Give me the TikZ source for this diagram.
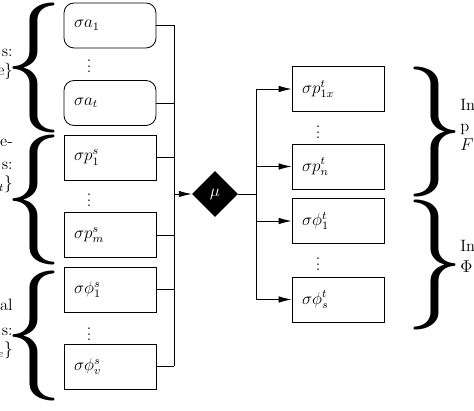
\documentclass[tikz,border=0pt]{standalone}
\usepackage{graphicx}
\usetikzlibrary{shapes.geometric,arrows.meta}
\newcommand{\lbr}{\resizebox*{41.3pt}{91pt}{$\{$}}
\newcommand{\rbr}{\resizebox*{41.3pt}{91pt}{$\}$}}
\begin{document}
\begin{tikzpicture}[x=0.7pt,y=-0.7pt,
  every node/.style={font=\fontsize{11.5}{14}\selectfont},
  box/.style={draw,line width=0.6pt,minimum width=64.4pt,minimum height=31.5pt,
    text width=50.4pt,align=left,inner xsep=7pt,inner ysep=0pt},
  rbox/.style={box,rounded corners=7pt},
  wire/.style={line width=0.6pt},
  arr/.style={wire,-{Latex[length=9pt,width=4.5pt]}},
  bigbrace/.style={inner sep=0pt},
  lbl/.style={inner sep=0pt}]
\useasboundingbox (0,0) rectangle (474,411);
% left boxes
\node[rbox] (a1) at (110,25.5) {$\sigma a_1$};
\node[rbox] (at) at (110,103) {$\sigma a_t$};
\node[box] (p1) at (110,157.5) {$\sigma p^s_1$};
\node[box] (pm) at (110,235) {$\sigma p^s_m$};
\node[box] (f1) at (110,289.5) {$\sigma \phi^s_1$};
\node[box] (fv) at (110,366.5) {$\sigma \phi^s_v$};
\node (d1) at (89,62) {$\vdots$};
\node (d2) at (89,196) {$\vdots$};
\node (d3) at (89,330) {$\vdots$};
% right boxes
\node[box] (q1) at (338,89) {$\sigma p^t_{1x}$};
\node[box] (qn) at (338,166.5) {$\sigma p^t_n$};
\node[box] (g1) at (338,221) {$\sigma \phi^t_1$};
\node[box] (gs) at (338,299.5) {$\sigma \phi^t_s$};
\node (d4) at (318,128) {$\vdots$};
\node (d5) at (318,260) {$\vdots$};
% diamond
\node[diamond,fill=black,minimum width=32.2pt,minimum height=32.2pt,inner sep=0pt,text=white] (mu) at (215,194) {$\mu$};
\coordinate (busL) at (174,194);
\coordinate (busR) at (256,194);
\foreach \n in {a1,at,p1,pm,f1,fv} \draw[wire] (\n.east) -- (\n.east -| busL);
\draw[wire] (a1.east -| busL) -- (fv.east -| busL);
\draw[arr] (busL) -- (mu.west);
\draw[wire] (mu.east) -- (busR);
\draw[wire] (q1.west -| busR) -- (gs.west -| busR);
\foreach \n in {q1,qn,g1,gs} \draw[arr] (\n.west -| busR) -- (\n.west);
% braces
\node[bigbrace] (bl1) at (34,68.5) {\lbr};
\node[bigbrace] (bl2) at (34,200) {\lbr};
\node[bigbrace] (bl3) at (34,336) {\lbr};
\node[bigbrace] (br1) at (435,132) {\rbr};
\node[bigbrace] (br2) at (435,265) {\rbr};
% cropped labels
\node[lbl,anchor=base east] (t1) at (13,57) {s:};
\node[lbl,anchor=base east] (t2) at (13,76) {e\}};
\node[lbl,anchor=base east] (t3) at (13,147) {e-};
\node[lbl,anchor=base east] (t4) at (13,170) {s:};
\node[lbl,anchor=base east] (t5) at (13,189) {${}_t\}$};
\node[lbl,anchor=base east] (t6) at (13,311) {al};
\node[lbl,anchor=base east] (t7) at (13,336) {s:};
\node[lbl,anchor=base east] (t8) at (13,355) {${}_e\}$};
\node[lbl,anchor=base west] (u1) at (460,111) {In};
\node[lbl,anchor=base west] (u2) at (460,132) {p};
\node[lbl,anchor=base west] (u3) at (460,151) {$F$};
\node[lbl,anchor=base west] (u4) at (460,252) {In};
\node[lbl,anchor=base west] (u5) at (460,273) {$\Phi$};
\end{tikzpicture}
\end{document}
